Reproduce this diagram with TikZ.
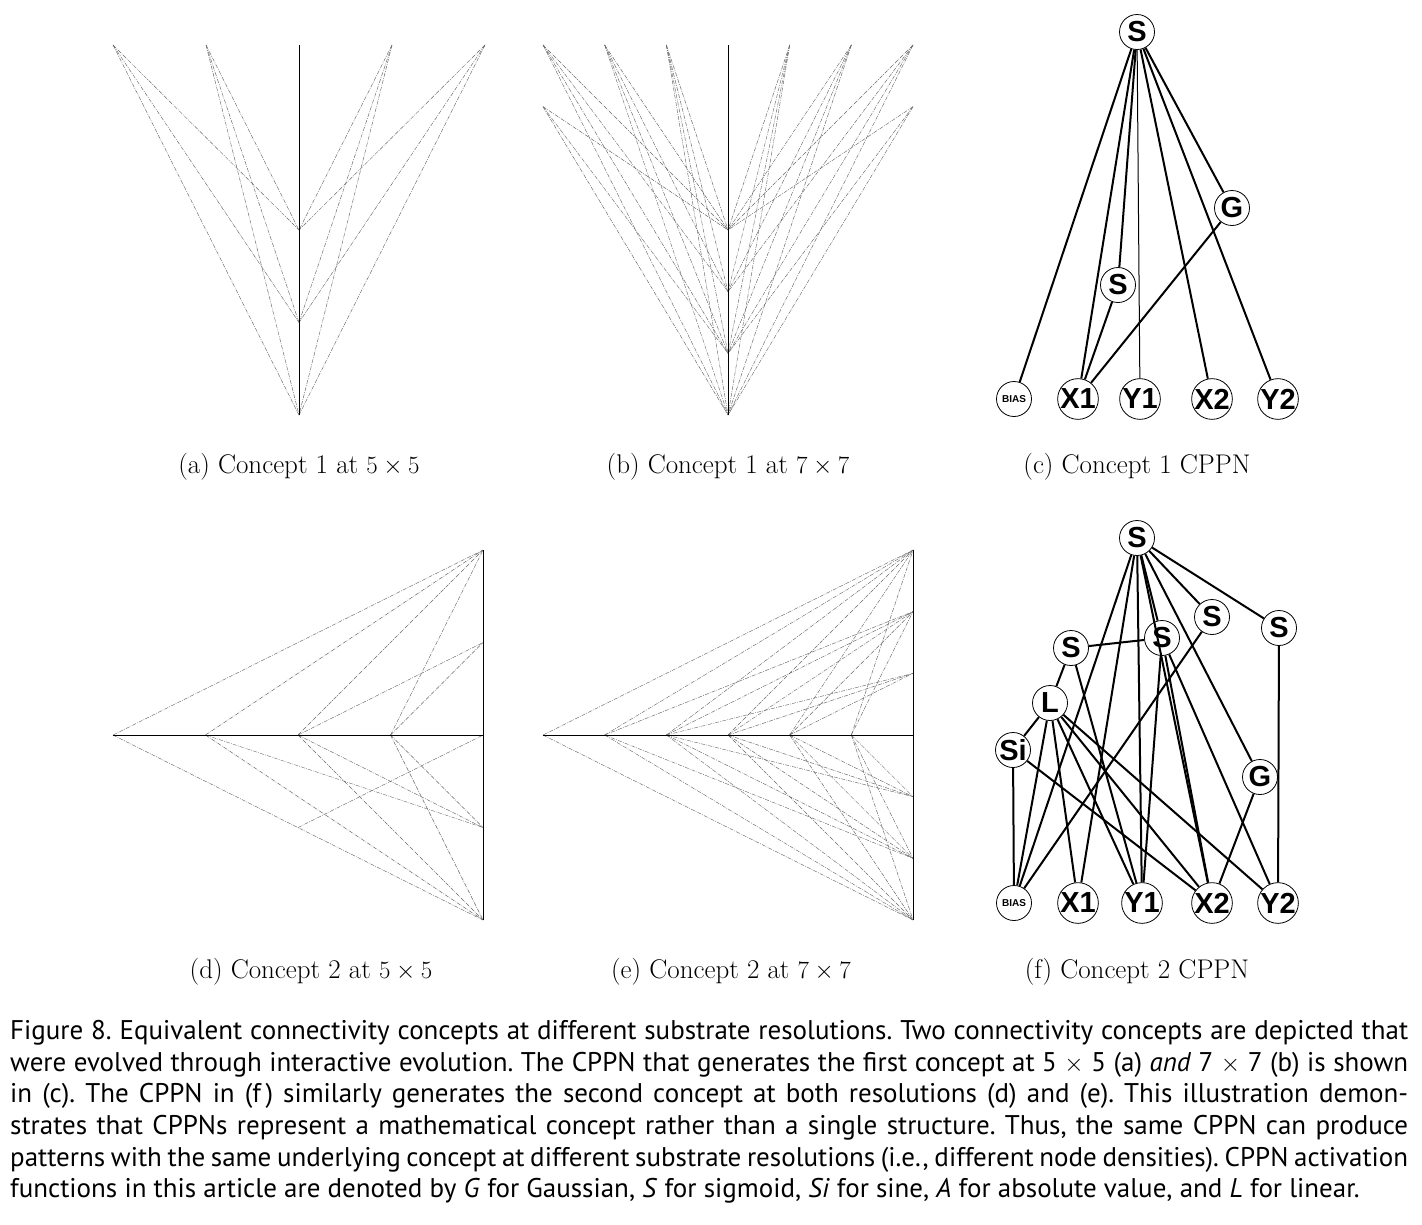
\documentclass[tikz,border=0pt]{standalone}
\usepackage{fontspec}
\newfontfamily\capfont{PT Sans}
\newfontfamily\nodefont{Liberation Sans}
\begin{document}
\begin{tikzpicture}[x=1pt,y=-1pt,
  sub/.style={gray!80!black,line width=0.45pt,dash pattern=on 4pt off 1.2pt on 0.8pt off 1.2pt},
  main/.style={black,line width=0.9pt},
  nn/.style={circle,draw,line width=0.8pt,minimum size=35pt,inner sep=0pt,font=\nodefont\bfseries\fontsize{29}{29}\selectfont},
  bias/.style={nn,font=\nodefont\bfseries\fontsize{10}{10}\selectfont},
  ed/.style={line width=2pt},
  lab/.style={font=\fontsize{27}{32}\selectfont}]
\useasboundingbox (0,0) rectangle (1422,1224);
% ---------- (a) ----------
\foreach \i in {0,...,4}{\foreach \j in {0,...,4}{\coordinate (a\i\j) at ({113+93*\i},{45+92.5*\j});}}
\foreach \i in {0,1,3,4}{\foreach \j in {2,3,4}{\draw[sub] (a\i0) -- (a2\j);}}
\draw[main] (a20) -- (a24);
% ---------- (b) ----------
\foreach \i in {0,...,6}{\foreach \j in {0,...,6}{\coordinate (b\i\j) at ({543+61.67*\i},{45+61.67*\j});}}
\foreach \i in {0,1,2,4,5,6}{\foreach \j in {3,4,5,6}{\draw[sub] (b\i0) -- (b3\j);}}
\foreach \i in {0,6}{\foreach \j in {3,5,6}{\draw[sub] (b\i1) -- (b3\j);}}
\draw[main] (b30) -- (b36);
% ---------- (d) ----------
\foreach \i in {0,...,4}{\foreach \j in {0,...,4}{\coordinate (d\i\j) at ({113+92.5*\i},{550+92.5*\j});}}
\foreach \i/\j in {0/0,0/4,1/0,1/4,1/3,2/0,2/1,2/3,2/4,3/0,3/1,3/3,3/4}{\draw[sub] (d\i2) -- (d4\j);}
\draw[sub] (d23) -- (d42);
\draw[main] (d02) -- (d42);
\draw[main] (d40) -- (d44);
% ---------- (e) ----------
\foreach \i in {0,...,6}{\foreach \j in {0,...,6}{\coordinate (e\i\j) at ({543+61.67*\i},{550+61.67*\j});}}
\foreach \i/\j in {0/0,0/6,1/0,1/1,1/5,1/6,2/0,2/1,2/2,2/4,2/5,2/6,3/0,3/1,3/2,3/4,3/5,3/6,4/0,4/1,4/2,4/4,4/5,4/6,5/0,5/1,5/4,5/5,5/6}{\draw[sub] (e\i3) -- (e6\j);}
\draw[main] (e03) -- (e63);
\draw[main] (e60) -- (e66);
% ---------- (c) ----------
\node[nn] (cS) at (1137,32) {S};
\node[nn] (cS2) at (1118,285) {S};
\node[nn] (cG) at (1232,208) {G};
\node[bias] (cB) at (1014,399) {BIAS};
\node[nn] (cX1) at (1078,399) {X1};
\node[nn] (cY1) at (1140,399) {Y1};
\node[nn] (cX2) at (1212,399) {X2};
\node[nn] (cY2) at (1278,399) {Y2};
\foreach \t in {cB,cX1,cS2,cX2,cG,cY2}{\draw[ed] (cS) -- (\t);}
\draw[line width=1pt] (cS) -- (cY1);
\draw[ed] (cS2) -- (cX1);
\draw[ed] (cG) -- (cX1);
% ---------- (f) ----------
\node[nn] (fS) at (1137,538) {S};
\node[nn] (fS2) at (1212,617) {S};
\node[nn] (fS3) at (1162,638) {S};
\node[nn] (fSl) at (1071,648) {S};
\node[nn] (fSr) at (1279,628) {S};
\node[nn] (fL) at (1050,703) {L};
\node[nn] (fSi) at (1013,750) {Si};
\node[nn] (fG) at (1260,777) {G};
\node[bias] (fB) at (1014,903) {BIAS};
\node[nn] (fX1) at (1078,903) {X1};
\node[nn] (fY1) at (1142,903) {Y1};
\node[nn] (fX2) at (1212,903) {X2};
\node[nn] (fY2) at (1278,903) {Y2};
\foreach \a/\b in {fS/fSr,fS/fS2,fS/fS3,fS/fB,fS/fX1,fS/fY1,fS/fX2,fS/fG,
  fSl/fS3,fSl/fL,fSl/fY1,fS3/fY1,fS3/fX2,fS3/fY2,fS2/fB,
  fL/fSi,fL/fB,fL/fX1,fL/fY1,fL/fX2,fL/fY2,fSi/fB,fSi/fX2,fG/fX2,fSr/fY2}
  {\draw[ed] (\a) -- (\b);}
% ---------- labels ----------
\node[lab] (la) at (299,467) {(a) Concept 1 at $5\times5$};
\node[lab] (lb) at (728,467) {(b) Concept 1 at $7\times7$};
\node[lab] (lc) at (1137,467) {(c) Concept 1 CPPN};
\node[lab] (ld) at (311,972) {(d) Concept 2 at $5\times5$};
\node[lab] (le) at (731,972) {(e) Concept 2 at $7\times7$};
\node[lab] (lf) at (1137,972) {(f) Concept 2 CPPN};
\node[anchor=north west,inner sep=0pt,text width=1398pt,align=justify,
  font=\capfont\fontsize{27}{31.7}\selectfont] (cap) at (10,1020)
{\frenchspacing Figure 8. Equivalent connectivity concepts at different substrate resolutions. Two connectivity concepts are depicted that\linebreak were evolved through interactive evolution. The CPPN that generates the first concept at 5 $\times$ 5 (a) \textit{and} 7 $\times$ 7 (b) is shown\linebreak in (c). The CPPN in (f\,) similarly generates the second concept at both resolutions (d) and (e). This illustration demon-\linebreak strates that CPPNs represent a mathematical concept rather than a single structure. Thus, the same CPPN can produce\linebreak patterns with the same underlying concept at different substrate resolutions (i.e., different node densities). CPPN activation\linebreak functions in this article are denoted by \textit{G} for Gaussian, \textit{S} for sigmoid, \textit{Si} for sine, \textit{A} for absolute value, and \textit{L} for linear.};
\end{tikzpicture}
\end{document}
